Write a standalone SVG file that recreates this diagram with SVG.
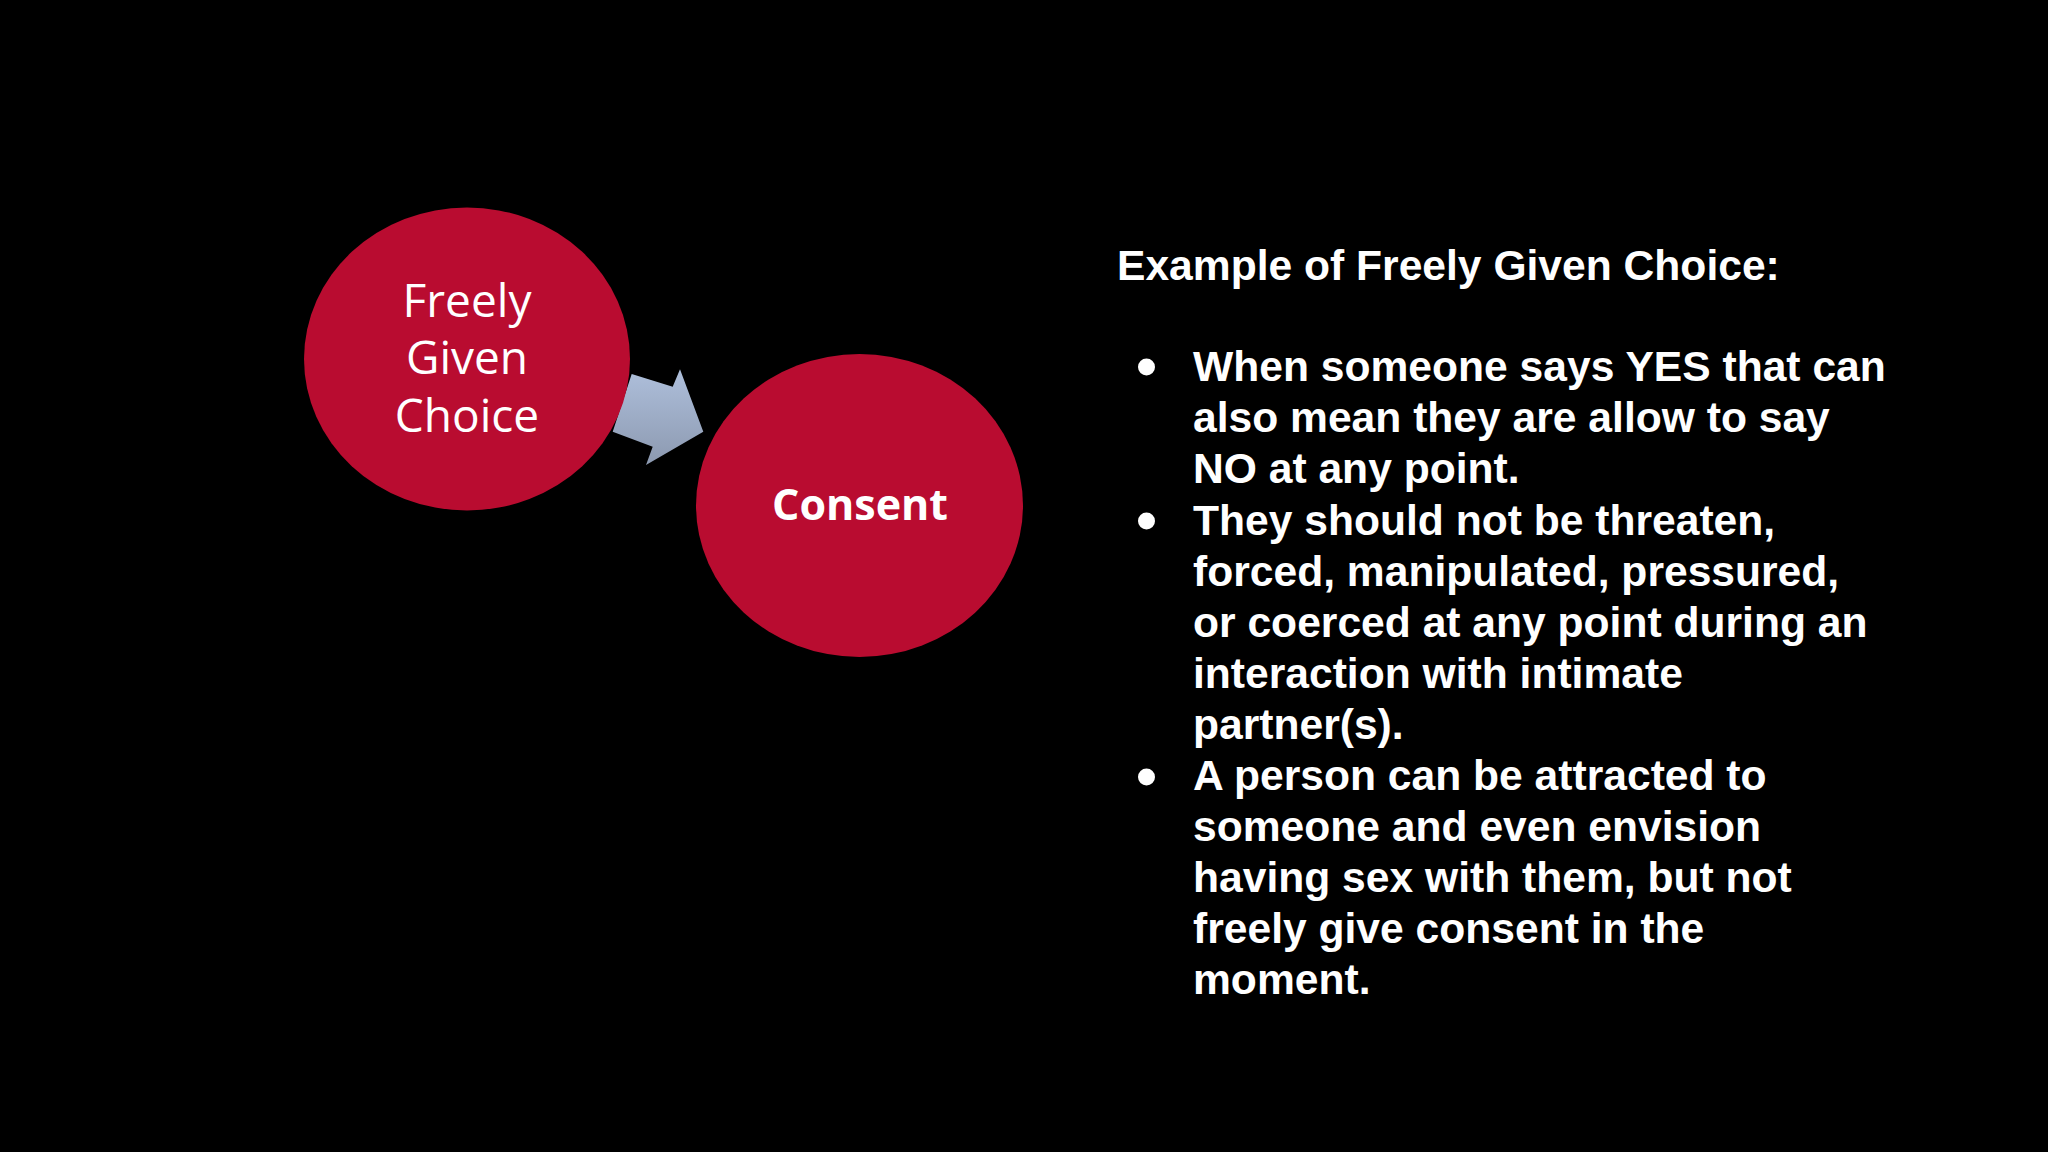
<svg xmlns="http://www.w3.org/2000/svg" width="2048" height="1152" viewBox="0 0 2048 1152">
<defs>
<linearGradient id="arrowGrad" x1="0" y1="0" x2="0" y2="1">
<stop offset="0" stop-color="#aebfdb"/>
<stop offset="1" stop-color="#8c99b0"/>
</linearGradient>
</defs>
<style>
.node{fill:#b90c30;}
.ntext{font-family:"Open Sans","Noto Sans",sans-serif;fill:#ffffff;text-anchor:middle;}
.body{font-family:"Liberation Sans",Arial,sans-serif;font-weight:bold;font-size:42.6px;fill:#ffffff;}
</style>
<rect width="2048" height="1152" fill="#000000"/>
<g id="connectors">
<polygon points="631.7,374 672.7,386.7 680,369.3 703.3,431.7 646,465 652.7,446.7 612.7,431.7" fill="url(#arrowGrad)"/>
</g>
<g id="node-freely-given-choice">
<ellipse class="node" cx="467" cy="359" rx="163" ry="151.5"/>
<text class="ntext" font-size="46"><tspan x="467" y="317">Freely</tspan><tspan x="467" y="374">Given</tspan><tspan x="467" y="432">Choice</tspan></text>
</g>
<g id="node-consent">
<ellipse class="node" cx="859.5" cy="505.5" rx="163.5" ry="151.5"/>
<text class="ntext" font-size="43" font-weight="bold" x="860" y="520">Consent</text>
</g>
<g id="text-panel">
<text class="body" x="1117" y="280">Example of Freely Given Choice:</text>
<circle cx="1146.5" cy="367" r="8.5" fill="#ffffff"/>
<circle cx="1146.5" cy="521" r="8.5" fill="#ffffff"/>
<circle cx="1146.5" cy="777" r="8.5" fill="#ffffff"/>
<text class="body">
<tspan x="1193" y="381">When someone says YES that can</tspan>
<tspan x="1193" y="432">also mean they are allow to say</tspan>
<tspan x="1193" y="483">NO at any point.</tspan>
<tspan x="1193" y="534.5">They should not be threaten,</tspan>
<tspan x="1193" y="585.5">forced, manipulated, pressured,</tspan>
<tspan x="1193" y="636.5">or coerced at any point during an</tspan>
<tspan x="1193" y="687.5">interaction with intimate</tspan>
<tspan x="1193" y="738.5">partner(s).</tspan>
<tspan x="1193" y="790">A person can be attracted to</tspan>
<tspan x="1193" y="841">someone and even envision</tspan>
<tspan x="1193" y="892">having sex with them, but not</tspan>
<tspan x="1193" y="943">freely give consent in the</tspan>
<tspan x="1193" y="994">moment.</tspan>
</text>
</g>
</svg>
